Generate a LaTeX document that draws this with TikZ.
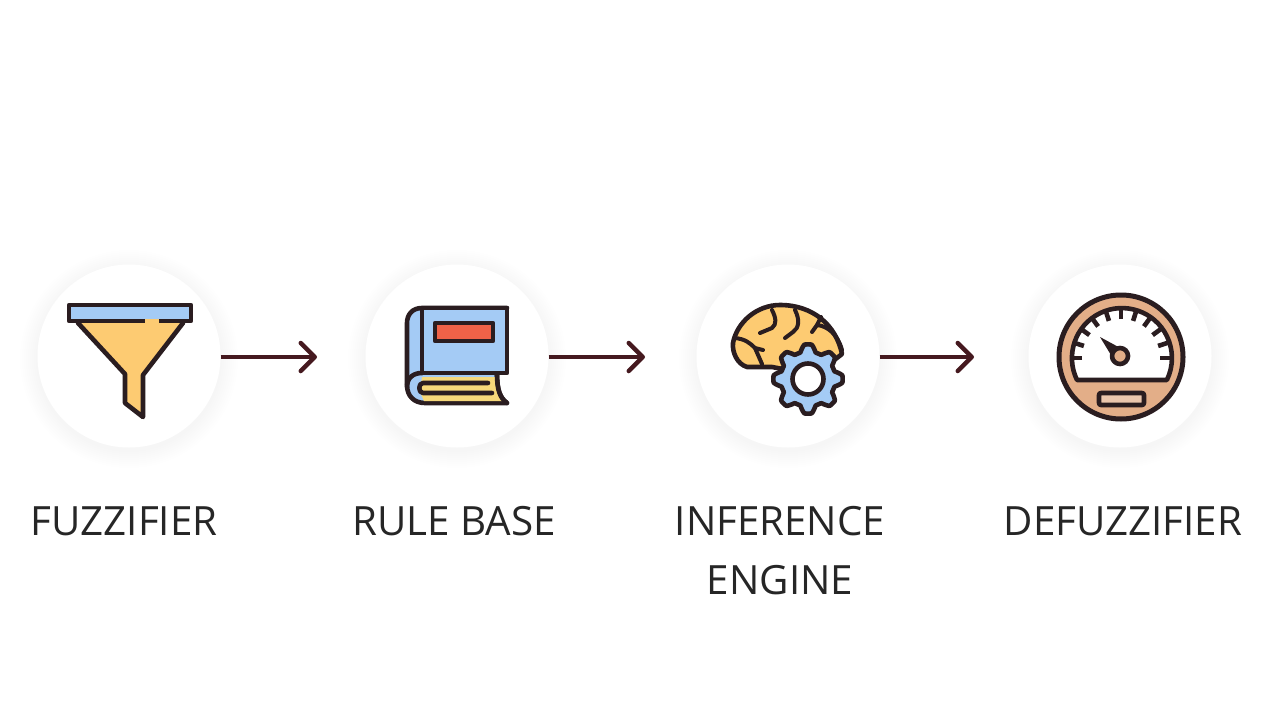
\documentclass[tikz,border=0pt]{standalone}
\usepackage{fontspec}
\setmainfont{Open Sans}
\usetikzlibrary{arrows.meta}
\definecolor{inkdark}{HTML}{2A1D20}
\definecolor{flowred}{HTML}{45191F}
\definecolor{skyblue}{HTML}{A4CBF5}
\definecolor{honey}{HTML}{FDCB72}
\definecolor{pagegold}{HTML}{F6D87A}
\definecolor{tomato}{HTML}{EF6248}
\definecolor{tan}{HTML}{E3AE88}
\tikzset{
  disc/.style={circle,fill=white,minimum size=183pt,inner sep=0pt},
  caption/.style={font=\fontsize{40.3}{59}\selectfont,text=black!85,anchor=base,align=center,inner sep=0pt},
  flow/.style={draw=flowred,line width=4.5pt,-{Straight Barb[length=14pt,width=28pt,round]}},
  icon/.style={draw=inkdark,line width=4.6pt,line join=round,line cap=round},
  thin icon/.style={icon,line width=4pt},
}
\begin{document}
\begin{tikzpicture}[x=1pt,y=-1pt]
\useasboundingbox (0,0) rectangle (1280,720);
\foreach \cx in {129,457,788,1120}
  \foreach \r in {93,95,...,109}
    \fill[black,opacity=0.0035] (\cx,359) circle (\r);

\node[disc] (fuzzifier) at (129,356) {};
\node[disc] (rulebase) at (457,356) {};
\node[disc] (inference) at (788,356) {};
\node[disc] (defuzzifier) at (1120,356) {};

\coordinate (fuzzifier end) at (317,357);
\coordinate (rulebase end) at (645,357);
\coordinate (inference end) at (974,357);
\draw[flow] (fuzzifier.east |- fuzzifier end) -- (fuzzifier end);
\draw[flow] (rulebase.east |- rulebase end) -- (rulebase end);
\draw[flow] (inference.east |- inference end) -- (inference end);

\node[caption] (fuzzifier text) at (124,535) {FUZZIFIER};
\node[caption] (rulebase text) at (454,535) {RULE BASE};
\node[caption] (inference text) at (780,535) {INFERENCE};
\node[caption] (engine text) at (780,594) {ENGINE};
\node[caption] (defuzzifier text) at (1123,535) {DEFUZZIFIER};

% funnel
\fill[honey] (78,323) -- (125,374) -- (125,403) -- (143,417) -- (143,375) -- (183,323) -- cycle;
\draw[icon] (78,323) -- (125,374) -- (125,403) -- (143,417) -- (143,375) -- (183,323);
\draw[icon,fill=skyblue] (69,305) rectangle (191,321);
\draw[icon,draw=honey,line cap=butt] (145,321.5) -- (159,321.5);

% book
\fill[pagegold] (422,374) -- (497,374) .. controls (497,390) and (500,398) .. (507,403) -- (425,403) -- cycle;
\draw[icon,fill=skyblue] (507,308) -- (422,308) .. controls (412,308) and (407,315) .. (407,323) -- (407,385) .. controls (407,396) and (414,403) .. (425,403) -- (507,403) .. controls (500,398) and (497,390) .. (497,373);
\draw[icon,fill=skyblue] (507,308) -- (507,373) -- (422,373) -- (422,308) -- cycle;
\draw[icon] (422,373) .. controls (413,373) and (407,378) .. (407,387);
\fill[pagegold] (422,377) -- (495,377) .. controls (495,390) and (498,398) .. (504,401) -- (424,401) -- (420,392) -- cycle;
\draw[icon] (497,374) .. controls (497,390) and (500,398) .. (507,403);
\draw[icon] (488,383) -- (423,383) .. controls (418,383) and (418,393) .. (423,393) -- (492,393);
\draw[icon,fill=tomato] (435,323) rectangle (493,341);

% brain and gear
\draw[icon,fill=honey] (772,367) -- (747,367) .. controls (737,364) and (732,352) .. (733,343) .. controls (737,322) and (757,305) .. (780,305) .. controls (813,305) and (836,325) .. (842,354) -- (815,375) -- cycle;
\draw[thin icon] (772,310) .. controls (776,318) and (777,324) .. (772,328) -- (760,333);
\draw[thin icon] (795,310) .. controls (800,320) and (799,328) .. (793,332) -- (785,338);
\draw[thin icon] (821,317) -- (817,325) -- (812,332);
\draw[thin icon] (817,325) .. controls (828,326) and (838,335) .. (842,350);
\draw[thin icon] (735,338) .. controls (745,339) and (750,343) .. (755,348) -- (763,350);
\draw[thin icon] (755,348) -- (762,364);
\draw[icon,fill=skyblue] plot[domain=0:360,samples=181,smooth] ({808+(31+3.6*min(1,max(-1,1.5*cos(8*\x))))*cos(\x)},{379+(31+3.6*min(1,max(-1,1.5*cos(8*\x))))*sin(\x)}) -- cycle;
\draw[icon,fill=white] (808,379) circle (15.5);

% gauge
\draw[icon,line width=5pt,fill=tan] (1121,357) circle (62);
\fill[white] (1077,380) arc (154:386:50) -- cycle;
\draw[icon] (1077,380) arc (154:386:50) -- cycle;
\foreach \a in {0,18,...,180}
  \draw[icon,line cap=butt] ({1121+39*cos(\a)},{358-39*sin(\a)}) -- ({1121+50*cos(\a)},{358-50*sin(\a)});
\fill[inkdark] (1100,337) -- (1124,350) -- (1114,360) -- cycle;
\draw[icon,fill=tan] (1120,356) circle (8);
\draw[icon,fill=tan!70!white,rounded corners=2pt] (1099,393) rectangle (1144,405);
\end{tikzpicture}
\end{document}
